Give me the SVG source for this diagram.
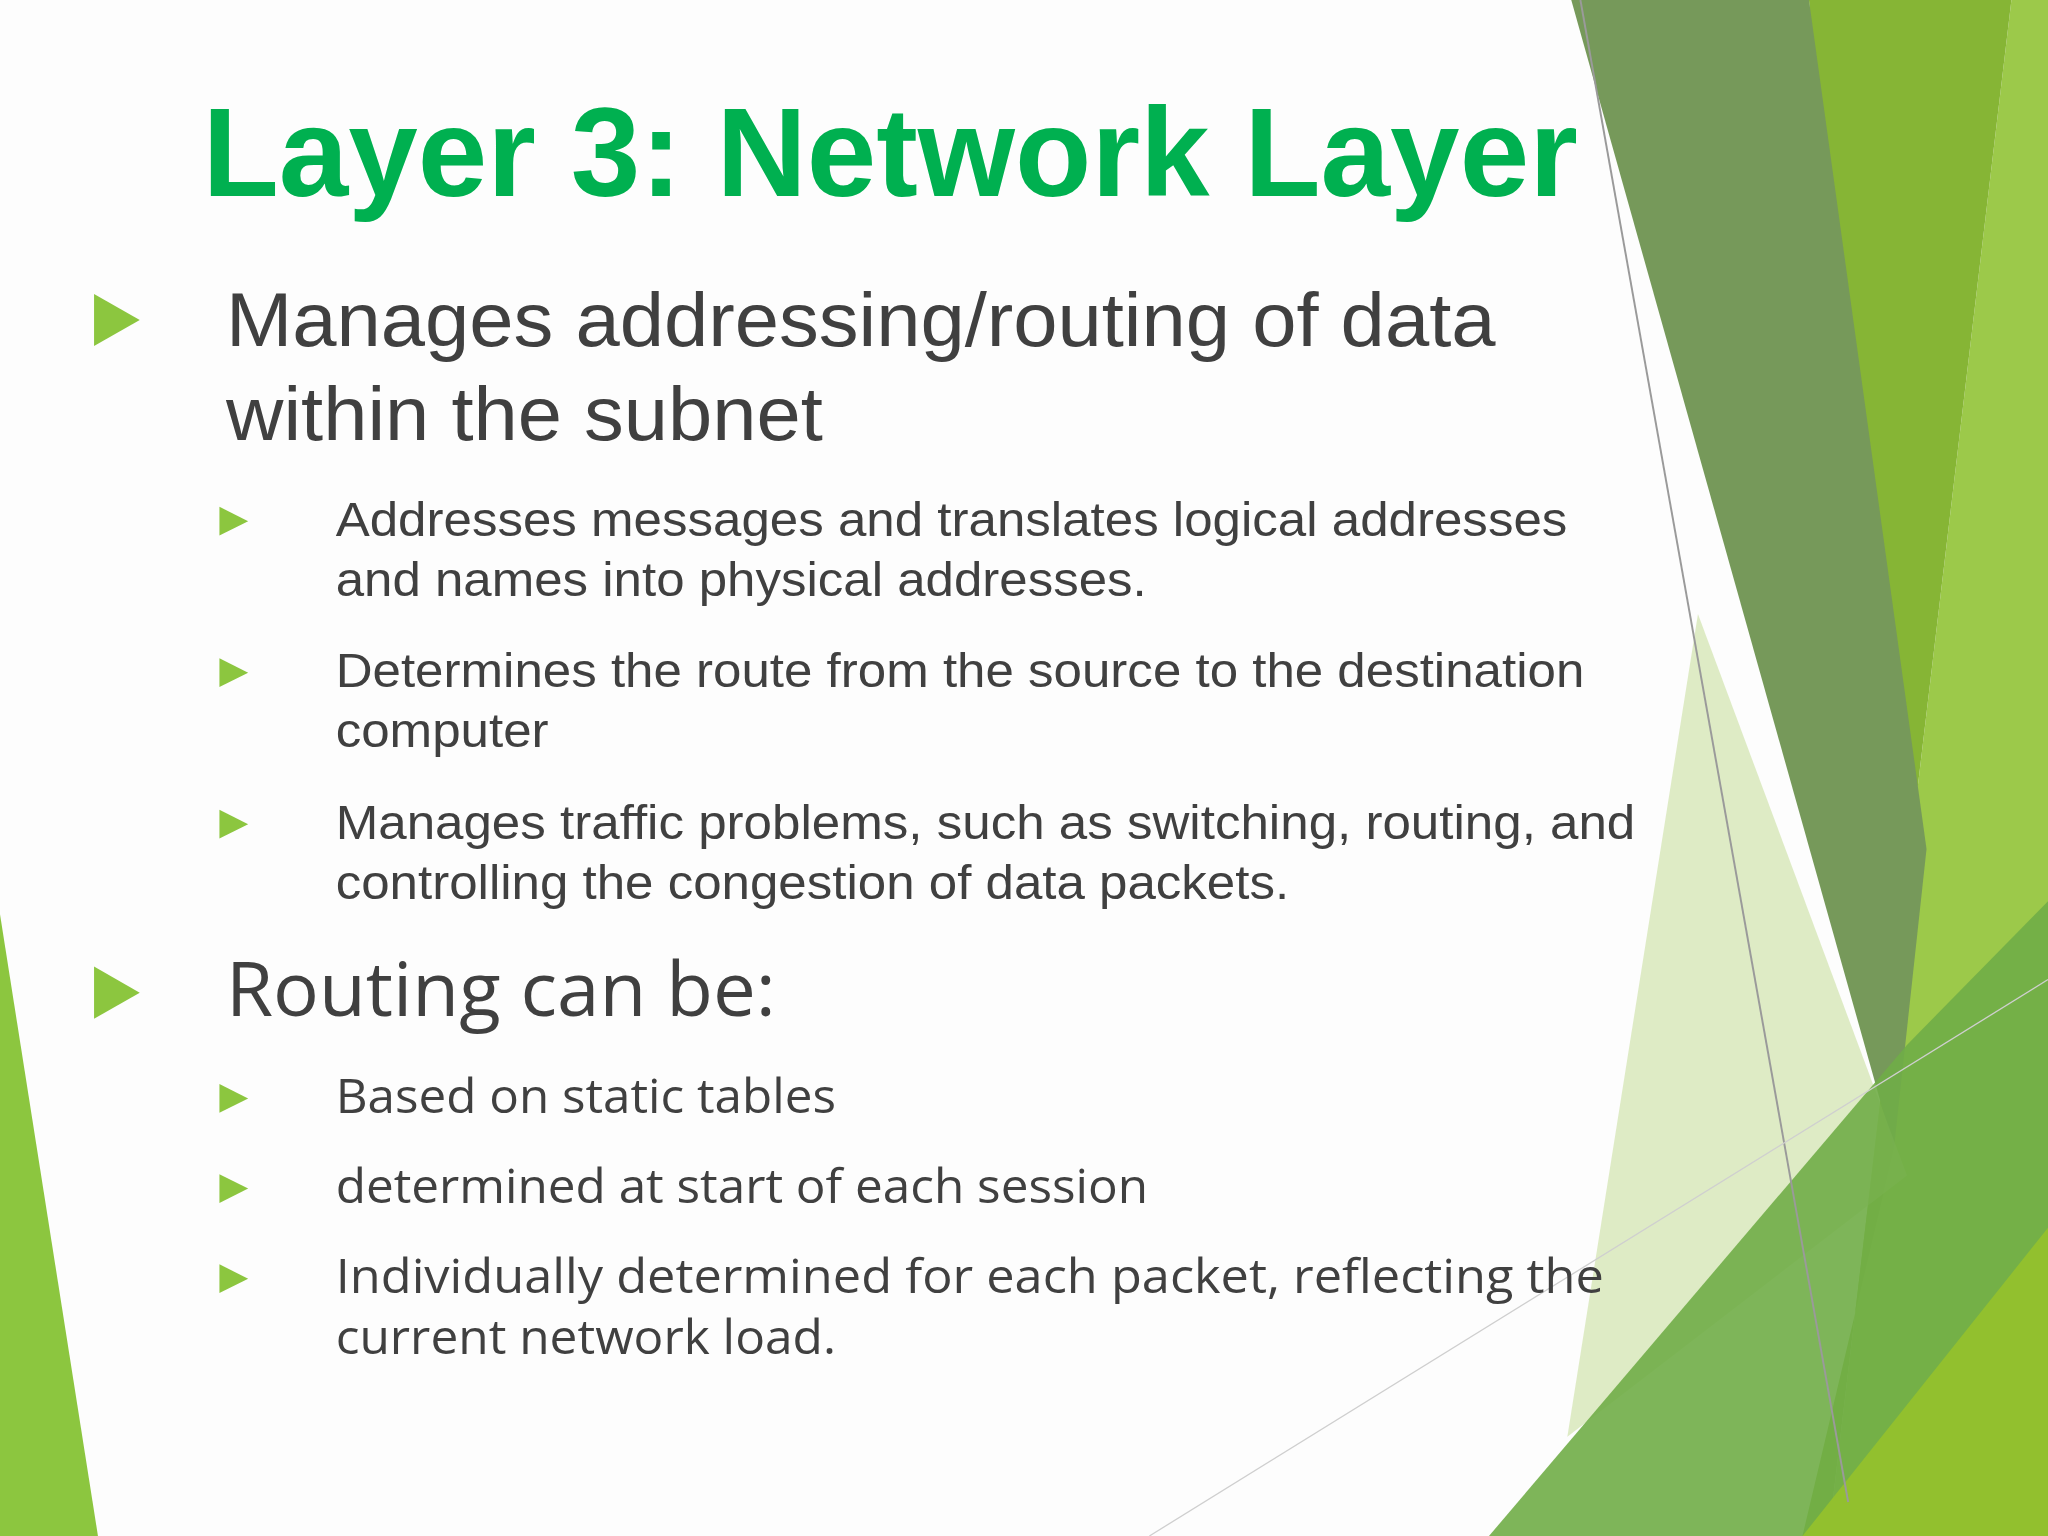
<svg xmlns="http://www.w3.org/2000/svg" width="2048" height="1536" viewBox="0 0 2048 1536">
<style>
.t{font-family:"Liberation Sans",Arial,sans-serif;fill:#404040}
.o{font-family:"Open Sans","Noto Sans",sans-serif;fill:#404040}
.b{fill:#8cc63f}
</style>
<rect width="2048" height="1536" fill="#fdfdfd"/>
<g transform="scale(1.30612)">
<g id="decor">
<polygon points="1540,0 1568,0 1568,1176 1400,1176" fill="#9cc94a"/>
<polygon points="1385,0 1540,0 1400,1176 1380,1176 1450,880" fill="#86b535"/>
<polygon points="1203,0 1385,0 1475,650 1450,880" fill="#76995a"/>
<polygon points="1300,470 1460,900 1200,1100" fill="#c9e0a0" opacity="0.6"/>
<polygon points="1140,1176 1460,800 1568,690 1568,1176" fill="#70ad47" opacity="0.9"/>
<polygon points="1380,1176 1568,940 1568,1176" fill="#92c02e"/>
<polygon points="0,700 75,1176 0,1176" fill="#8cc63f"/>
<line x1="1210" y1="0" x2="1415" y2="1150" stroke="#9a9a9a" stroke-width="1.5"/>
<line x1="880" y1="1176" x2="1568" y2="750" stroke="#cfcfcf" stroke-width="1"/>
</g>
<g id="title"><text x="155" y="150" font-family="Liberation Sans,Arial,sans-serif" font-weight="bold" font-size="96" fill="#00b050" textLength="1053" lengthAdjust="spacingAndGlyphs">Layer 3: Network Layer</text></g>
<g id="bullets">
<polygon class="b" points="72,225 107,245 72,265"/>
<polygon class="b" points="72,740 107,760 72,780"/>
<polygon class="b" points="168,388 190,399 168,410"/>
<polygon class="b" points="168,504 190,515 168,526"/>
<polygon class="b" points="168,620 190,631 168,642"/>
<polygon class="b" points="168,830 190,841 168,852"/>
<polygon class="b" points="168,899 190,910 168,921"/>
<polygon class="b" points="168,968 190,979 168,990"/>
</g>
<g id="text">
<text class="t" x="173" y="265" font-size="58" textLength="972" lengthAdjust="spacingAndGlyphs">Manages addressing/routing of data</text>
<text class="t" x="173" y="337" font-size="58" textLength="457" lengthAdjust="spacingAndGlyphs">within the subnet</text>
<text class="t" x="257" y="410" font-size="37" textLength="943" lengthAdjust="spacingAndGlyphs">Addresses messages and translates logical addresses</text>
<text class="t" x="257" y="456" font-size="37" textLength="621" lengthAdjust="spacingAndGlyphs">and names into physical addresses.</text>
<text class="t" x="257" y="526" font-size="37" textLength="956" lengthAdjust="spacingAndGlyphs">Determines the route from the source to the destination</text>
<text class="t" x="257" y="572" font-size="37" textLength="163" lengthAdjust="spacingAndGlyphs">computer</text>
<text class="t" x="257" y="642" font-size="37" textLength="995" lengthAdjust="spacingAndGlyphs">Manages traffic problems, such as switching, routing, and</text>
<text class="t" x="257" y="688" font-size="37" textLength="730" lengthAdjust="spacingAndGlyphs">controlling the congestion of data packets.</text>
<text class="o" x="173" y="778" font-size="58" textLength="421" lengthAdjust="spacingAndGlyphs">Routing can be:</text>
<text class="o" x="257" y="852" font-size="37" textLength="383" lengthAdjust="spacingAndGlyphs">Based on static tables</text>
<text class="o" x="257" y="921" font-size="37" textLength="622" lengthAdjust="spacingAndGlyphs">determined at start of each session</text>
<text class="o" x="257" y="990" font-size="37" textLength="971" lengthAdjust="spacingAndGlyphs">Individually determined for each packet, reflecting the</text>
<text class="o" x="257" y="1037" font-size="37" textLength="383" lengthAdjust="spacingAndGlyphs">current network load.</text>
</g>
</g>
</svg>
